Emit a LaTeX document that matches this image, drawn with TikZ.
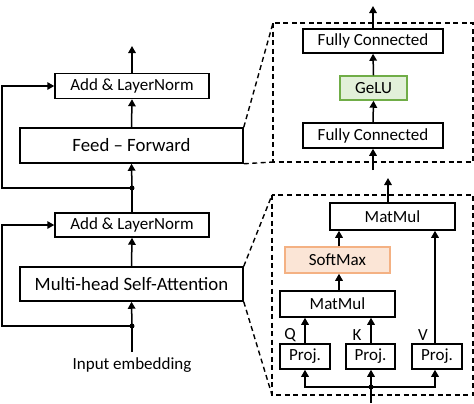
\documentclass[tikz,border=0pt]{standalone}
\usepackage{fontspec}
\setmainfont{Carlito}
\usetikzlibrary{arrows.meta}
\definecolor{gfill}{HTML}{E2F0D9}
\definecolor{gdraw}{HTML}{70AD47}
\definecolor{ofill}{HTML}{FBE5D6}
\definecolor{odraw}{HTML}{F4B183}
\tikzset{
  blk/.style={draw=black, line width=1.5bp, fill=white, inner sep=0pt, font=\fontsize{17bp}{19bp}\selectfont},
  bigblk/.style={blk, font=\fontsize{18.8bp}{21bp}\selectfont},
  conn/.style={line width=1.5bp, -{Triangle[length=7bp,width=7.5bp]}},
  plain/.style={line width=1.5bp},
  dashln/.style={line width=1.4bp, dash pattern=on 5bp off 3.5bp},
  dotnode/.style={circle, fill=black, inner sep=0pt, minimum size=5bp},
  lbl/.style={font=\fontsize{17bp}{19bp}\selectfont, inner sep=0pt}
}
\begin{document}
\begin{tikzpicture}[x=1bp,y=-1bp]
\useasboundingbox (0,0) rectangle (474,403);
% ---------- left column ----------
\node[blk, minimum width=154bp, minimum height=25bp] (addT) at (132,86) {Add \& LayerNorm};
\node[bigblk, minimum width=223bp, minimum height=35bp] (ff) at (131.5,145.5) {Feed -- Forward};
\node[dotnode] (dotT) at (132,188) {};
\node[blk, minimum width=154bp, minimum height=24bp] (addB) at (132,225) {Add \& LayerNorm};
\node[bigblk, minimum width=223bp, minimum height=34bp] (mhsa) at (131.5,284) {Multi-head Self-Attention};
\node[dotnode] (dotB) at (132,326) {};
\node[lbl] (inp) at (132,365) {Input embedding};
\coordinate (outL) at (132,46);
\coordinate (inL) at (132,352);
\coordinate (lt) at (2,188);
\coordinate (ltt) at (2,86);
\coordinate (lb) at (2,326);
\coordinate (lbt) at (2,225);

\draw[conn] (addT.north) -- (outL);
\draw[conn] (ff.north) -- (addT.south);
\draw[conn] (dotT.center) -- (ff.south);
\draw[plain] (addB.north) -- (dotT.center);
\draw[conn] (mhsa.north) -- (addB.south);
\draw[conn] (dotB.center) -- (mhsa.south);
\draw[plain] (inL) -- (dotB.center);
\draw[conn] (dotT.center) -- (lt) -- (ltt) -- (addT.west);
\draw[conn] (dotB.center) -- (lb) -- (lbt) -- (addB.west);

% ---------- right top: feed-forward detail ----------
\coordinate (ftl) at (273,23);
\coordinate (fbr) at (473,162);
\coordinate (fbl) at (273,162);
\draw[dashln] (ftl) rectangle (fbr);
\node[blk, minimum width=140bp, minimum height=24bp] (fc1) at (373,41) {Fully Connected};
\node[blk, draw=gdraw, fill=gfill, minimum width=67bp, minimum height=24bp] (gelu) at (373.5,88) {GeLU};
\node[blk, minimum width=140bp, minimum height=25bp] (fc2) at (373,135.5) {Fully Connected};
\coordinate (fout) at (373,6);
\coordinate (fin) at (373,170);
\draw[conn] (fc1.north) -- (fout);
\draw[conn] (gelu.north) -- (fc1.south);
\draw[conn] (fc2.north) -- (gelu.south);
\draw[conn] (fin) -- (fc2.south);
\draw[dashln] (ff.north east) -- (ftl);
\draw[dashln] (ff.south east) -- (fbl);

% ---------- right bottom: attention detail ----------
\coordinate (atl) at (272,195);
\coordinate (abr) at (473,395);
\coordinate (abl) at (272,395);
\draw[dashln] (atl) rectangle (abr);
\node[blk, minimum width=125bp, minimum height=27bp] (mm2) at (392.5,216.5) {MatMul};
\node[blk, draw=odraw, fill=ofill, minimum width=105bp, minimum height=26bp] (soft) at (337.5,260) {SoftMax};
\node[blk, minimum width=115bp, minimum height=26bp] (mm1) at (337.5,304) {MatMul};
\node[blk, minimum width=50bp, minimum height=25bp] (p1) at (305,356.5) {Proj.};
\node[blk, minimum width=49bp, minimum height=25bp] (p2) at (370.5,356.5) {Proj.};
\node[blk, minimum width=50bp, minimum height=25bp] (p3) at (437,356.5) {Proj.};
\node[lbl] (q) at (290,335) {Q};
\node[lbl] (k) at (357,335) {K};
\node[lbl] (v) at (423,335) {V};
\node[dotnode] (adot) at (371,387) {};
\coordinate (ain) at (371,403);
\coordinate (aout) at (388,178);
\coordinate (h1) at (305,387);
\coordinate (h3) at (435,387);
\coordinate (xs) at (339,0);
\coordinate (xk) at (371,0);

\draw[conn] (mm2.north -| aout) -- (aout);
\draw[conn] (soft.north -| xs) -- (mm2.south -| xs);
\draw[conn] (mm1.north -| xs) -- (soft.south -| xs);
\draw[conn] (p1.north) -- (mm1.south -| p1.north);
\draw[conn] (p2.north -| xk) -- (mm1.south -| xk);
\draw[conn] (p3.north -| h3) -- (mm2.south -| h3);
\draw[plain] (ain) -- (adot.center);
\draw[conn] (adot.center) -- (h1) -- (p1.south);
\draw[conn] (adot.center) -- (h3) -- (p3.south -| h3);
\draw[conn] (adot.center) -- (p2.south -| adot);
\draw[dashln] (mhsa.north east) -- (atl);
\draw[dashln] (mhsa.south east) -- (abl);
\end{tikzpicture}
\end{document}
